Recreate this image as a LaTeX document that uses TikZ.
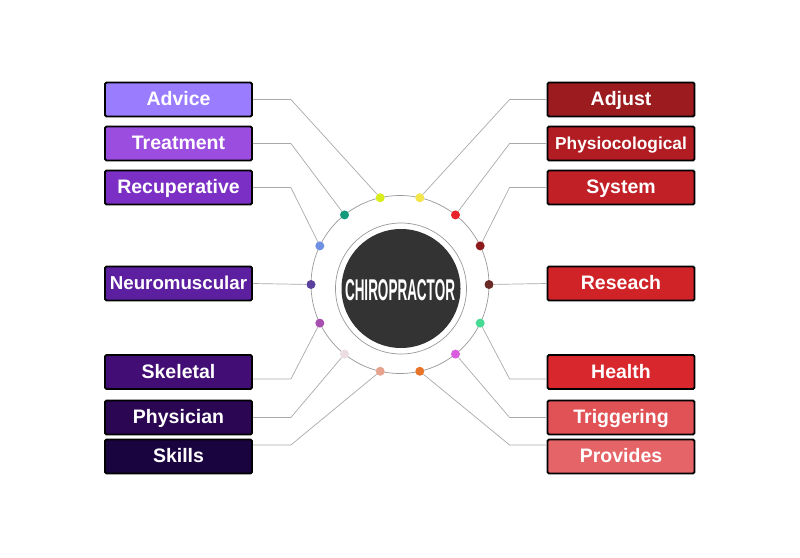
\documentclass[tikz,border=0pt]{standalone}
\usepackage{fontspec}
\setmainfont{Liberation Sans}
\usepackage{graphicx}
\usepackage{xcolor}
\usetikzlibrary{positioning,calc}

% box fills
\definecolor{boxAdvice}{HTML}{9A7DFF}
\definecolor{boxTreat}{HTML}{9B4DE0}
\definecolor{boxRecup}{HTML}{7B2FC4}
\definecolor{boxNeuro}{HTML}{5C1FA0}
\definecolor{boxSkel}{HTML}{420D75}
\definecolor{boxPhys}{HTML}{2B0652}
\definecolor{boxSkill}{HTML}{1A0440}
\definecolor{boxAdjust}{HTML}{9B1B1F}
\definecolor{boxPhysio}{HTML}{B11D23}
\definecolor{boxSystem}{HTML}{C02026}
\definecolor{boxResea}{HTML}{CF2328}
\definecolor{boxHealth}{HTML}{D9282D}
\definecolor{boxTrig}{HTML}{E05256}
\definecolor{boxProv}{HTML}{E46467}
% dots and lines
\definecolor{hubgray}{HTML}{333333}
\definecolor{linegray}{HTML}{AAAAAA}
\definecolor{ringgray}{HTML}{999999}

\begin{document}
\begin{tikzpicture}[x=1pt, y=-1pt,
        term/.style={rectangle, draw=black, line width=1.8pt, rounded corners=1.5pt, minimum width=147pt, minimum height=34pt, inner sep=0pt, text height=13pt, text depth=1pt, align=center, text=white, font=\fontsize{19.5}{21}\selectfont\bfseries},
        dot/.style={circle, inner sep=0pt, minimum size=9pt},
        link/.style={draw=linegray, line width=0.7pt},
        ring/.style={draw=ringgray, line width=0.7pt}
    ]

    % Canvas
    \useasboundingbox (0,0) rectangle (800,557);
    \fill[white] (0,0) rectangle (800,557);

    % Hub
    \coordinate (hub) at (400,284.5);
    \node[circle, fill=hubgray, minimum size=119pt, inner sep=0pt] (core) at (401,288.5) {};
    \draw[ring] (core.center) circle[radius=65.5pt];
    \draw[ring] (hub) circle[radius=89pt];
    \node[text=white, font=\fontsize{30}{31}\selectfont\bfseries] (title) at (400,290) {\scalebox{0.45}[1]{CHIROPRACTOR}};

    % Dots on the outer ring
    \foreach \k/\c in {0/6B2A25, 1/8E1B1B, 2/E8212B, 3/F2E64A, 4/D9EC1C, 5/139A7C, 6/6F8FE3,
                       7/5B3F9C, 8/A64FAE, 9/ECDDE4, 10/E8A38F, 11/E8742A, 12/D95DDC, 13/45DB95}{
        \definecolor{dotfill}{HTML}{\c}
        \node[dot, fill=dotfill] (d\k) at ($(hub)+(\k*360/14:89pt)$) {};
    }

    % Left column
    \node[term, fill=boxAdvice] (advice) at (178.5,99.5) {Advice};
    \node[term, fill=boxTreat] (treat) at (178.5,143.5) {Treatment};
    \node[term, fill=boxRecup] (recup) at (178.5,187.5) {Recuperative};
    \node[term, fill=boxNeuro, font=\fontsize{18.7}{20}\selectfont\bfseries] (neuro) at (178.5,283.5) {Neuromuscular};
    \node[term, fill=boxSkel] (skel) at (178.5,372) {Skeletal};
    \node[term, fill=boxPhys] (phys) at (178.5,417.5) {Physician};
    \node[term, fill=boxSkill] (skill) at (178.5,456.5) {Skills};

    % Right column
    \node[term, fill=boxAdjust] (adjust) at (621,99.5) {Adjust};
    \node[term, fill=boxPhysio, font=\fontsize{17.3}{19}\selectfont\bfseries] (physio) at (621,143.5) {Physiocological};
    \node[term, fill=boxSystem] (system) at (621,187.5) {System};
    \node[term, fill=boxResea] (resea) at (621,283.5) {Reseach};
    \node[term, fill=boxHealth] (health) at (621,372) {Health};
    \node[term, fill=boxTrig] (trig) at (621,417.5) {Triggering};
    \node[term, fill=boxProv] (prov) at (621,456.5) {Provides};

    % Left connectors
    \draw[link] (advice.east) -- ++(38,0) -- (d4);
    \draw[link] (treat.east) -- ++(38,0) -- (d5);
    \draw[link] (recup.east) -- ++(38,0) -- (d6);
    \draw[link] (neuro.east) -- (d7);
    \draw[link] ([yshift=-7pt]skel.east) -- ++(38,0) -- (d8);
    \draw[link] (phys.east) -- ++(38,0) -- (d9);
    \draw[link] ([yshift=11.5pt]skill.east) -- ++(38,0) -- (d10);

    % Right connectors
    \draw[link] (adjust.west) -- ++(-37,0) -- (d3);
    \draw[link] (physio.west) -- ++(-37,0) -- (d2);
    \draw[link] (system.west) -- ++(-37,0) -- (d1);
    \draw[link] (resea.west) -- (d0);
    \draw[link] ([yshift=-7pt]health.west) -- ++(-37,0) -- (d13);
    \draw[link] (trig.west) -- ++(-37,0) -- (d12);
    \draw[link] ([yshift=11.5pt]prov.west) -- ++(-37,0) -- (d11);

\end{tikzpicture}
\end{document}
